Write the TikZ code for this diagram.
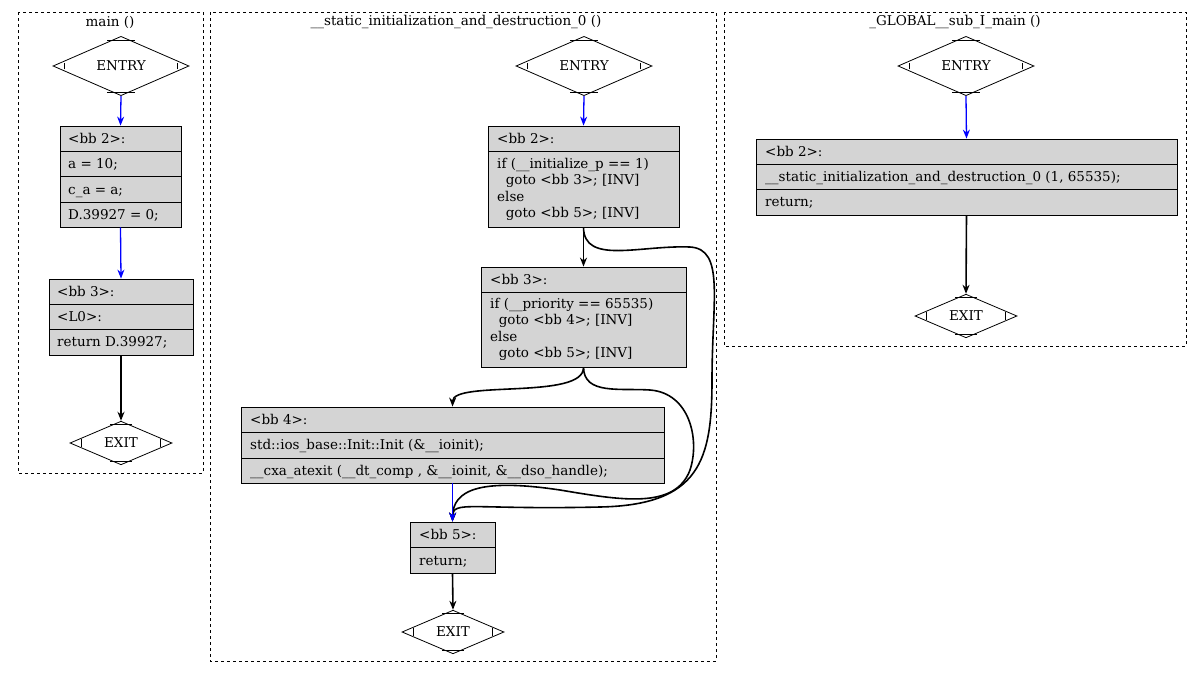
\documentclass[tikz,border=0pt]{standalone}
\usepackage{fontspec}
\setmainfont{DejaVu Serif}
\usetikzlibrary{shapes.geometric}
\tikzset{
  clus/.style={draw,dashed,line width=0.8pt},
  rec/.style={draw,fill=black!17,line width=0.8pt,inner sep=0},
  sep/.style={line width=0.8pt},
  tx/.style={anchor=base west,inner sep=0,font=\fontsize{13.5}{15}\selectfont},
  ttl/.style={inner sep=0,font=\fontsize{13.5}{15}\selectfont},
  md/.style={diamond,draw,line width=0.8pt,inner sep=0,font=\fontsize{13.5}{15}\selectfont},
  bl/.style={draw=blue,line width=1.3pt,-{Stealth[length=9pt,width=7pt]}},
  bk/.style={draw=black,line width=1.6pt,-{Stealth[length=9pt,width=7pt]}},
}
\usetikzlibrary{arrows.meta}
% ticks of an Mdiamond: name, half width, half height
\newcommand{\mdt}[3]{%
  \draw[line width=0.8pt] ([xshift=12pt]#1.west) ++(0,{12*#3/#2}) -- ++(0,{-24*#3/#2});
  \draw[line width=0.8pt] ([xshift=-12pt]#1.east) ++(0,{12*#3/#2}) -- ++(0,{-24*#3/#2});
  \draw[line width=0.8pt] ([yshift=-4pt]#1.north) ++({-4*#2/#3},0) -- ++({8*#2/#3},0);
  \draw[line width=0.8pt] ([yshift=4pt]#1.south) ++({-4*#2/#3},0) -- ++({8*#2/#3},0);
}
\begin{document}
\begin{tikzpicture}[x=1pt,y=-1pt]
\useasboundingbox (0,0) rectangle (1200,675);
% clusters
\draw[clus] (18,12) rectangle (203,473);
\draw[clus] (210,12) rectangle (716,661);
\draw[clus] (724,12) rectangle (1186,346);
\node[ttl] (t1) at (110,22) {main ()};
\node[ttl] (t2) at (456,22) {\_\_static\_initialization\_and\_destruction\_0 ()};
\node[ttl] (t3) at (955,22) {\_GLOBAL\_\_sub\_I\_main ()};

% ===== main
\node[md,minimum width=136pt,minimum height=39pt] (me) at (121,66) {ENTRY};
\mdt{me}{68}{19.5}
\node[rec,minimum width=121pt,minimum height=101pt] (m2) at (120.5,176.5) {};
\draw[sep] (60,151)--(181,151) (60,176)--(181,176) (60,202)--(181,202);
\node[tx] (m2a) at (68,143) {<bb 2>:};
\node[tx] (m2b) at (68,168) {a = 10;};
\node[tx] (m2c) at (68,194) {c\_a = a;};
\node[tx] (m2d) at (68,219) {D.39927 = 0;};
\node[rec,minimum width=144pt,minimum height=76pt] (m3) at (121,317) {};
\draw[sep] (49,304)--(193,304) (49,329)--(193,329);
\node[tx] (m3a) at (57,296) {<bb 3>:};
\node[tx] (m3b) at (57,321) {<L0>:};
\node[tx] (m3c) at (57,346) {return D.39927;};
\node[md,minimum width=102pt,minimum height=38pt] (mx) at (121,443) {EXIT};
\mdt{mx}{51}{19}
\draw[bl] (me.south) -- (m2.north);
\draw[bl] (m2.south) -- (m3.north);
\draw[bk] (m3.south) -- (mx.north);

% ===== middle
\node[md,minimum width=136pt,minimum height=39pt] (se) at (584,66) {ENTRY};
\mdt{se}{68}{19.5}
\node[rec,minimum width=191pt,minimum height=101pt] (s2) at (583.5,176.5) {};
\draw[sep] (488,151)--(679,151);
\node[tx] (s2a) at (497,143) {<bb 2>:};
\node[tx] (s2b) at (497,168) {if (\_\_initialize\_p == 1)};
\node[tx] (s2c) at (497,184) {\ \ goto <bb 3>; [INV]};
\node[tx] (s2d) at (497,201) {else};
\node[tx] (s2e) at (497,217) {\ \ goto <bb 5>; [INV]};
\node[rec,minimum width=205pt,minimum height=100pt] (s3) at (583.5,317) {};
\draw[sep] (481,292)--(686,292);
\node[tx] (s3a) at (490,284) {<bb 3>:};
\node[tx] (s3b) at (490,308) {if (\_\_priority == 65535)};
\node[tx] (s3c) at (490,324) {\ \ goto <bb 4>; [INV]};
\node[tx] (s3d) at (490,341) {else};
\node[tx] (s3e) at (490,357) {\ \ goto <bb 5>; [INV]};
\node[rec,minimum width=423pt,minimum height=76pt] (s4) at (452.5,445) {};
\draw[sep] (241,432)--(664,432) (241,458)--(664,458);
\node[tx] (s4a) at (250,424) {<bb 4>:};
\node[tx] (s4b) at (250,449) {std::ios\_base::Init::Init (\&\_\_ioinit);};
\node[tx] (s4c) at (250,475) {\_\_cxa\_atexit (\_\_dt\_comp , \&\_\_ioinit, \&\_\_dso\_handle);};
\node[rec,minimum width=85pt,minimum height=51pt] (s5) at (452.5,547.5) {};
\draw[sep] (410,547)--(495,547);
\node[tx] (s5a) at (419,539) {<bb 5>:};
\node[tx] (s5b) at (419,565) {return;};
\node[md,minimum width=102pt,minimum height=38pt] (sx) at (453,632) {EXIT};
\mdt{sx}{51}{19}
\draw[bl] (se.south) -- (s2.north);
\draw[bk] (s2.south) -- (s3.north);
\draw[bk] (s2.south) .. controls (584,265) and (640,245) .. (690,247)
  .. controls (725,249) and (712,300) .. (712,380)
  .. controls (712,460) and (700,505) .. (600,507)
  .. controls (470,510) and (453,500) .. (s5.north);
\draw[bk] (s3.south) .. controls (584,400) and (453,380) .. (s4.north);
\draw[bk] (s3.south) .. controls (584,395) and (620,388) .. (650,390)
  .. controls (690,393) and (700,440) .. (690,470)
  .. controls (675,510) and (620,500) .. (560,490)
  .. controls (480,478) and (453,490) .. (s5.north);
\draw[bl] (s4.south) -- (s5.north);
\draw[bk] (s5.south) -- (sx.north);

% ===== right
\node[md,minimum width=136pt,minimum height=39pt] (ge) at (966,66) {ENTRY};
\mdt{ge}{68}{19.5}
\node[rec,minimum width=421pt,minimum height=76pt] (g2) at (966.5,177) {};
\draw[sep] (756,164)--(1177,164) (756,189)--(1177,189);
\node[tx] (g2a) at (765,156) {<bb 2>:};
\node[tx] (g2b) at (765,181) {\_\_static\_initialization\_and\_destruction\_0 (1, 65535);};
\node[tx] (g2c) at (765,206) {return;};
\node[md,minimum width=102pt,minimum height=38pt] (gx) at (966,316) {EXIT};
\mdt{gx}{51}{19}
\draw[bl] (ge.south) -- (g2.north);
\draw[bk] (g2.south) -- (gx.north);
\end{tikzpicture}
\end{document}
